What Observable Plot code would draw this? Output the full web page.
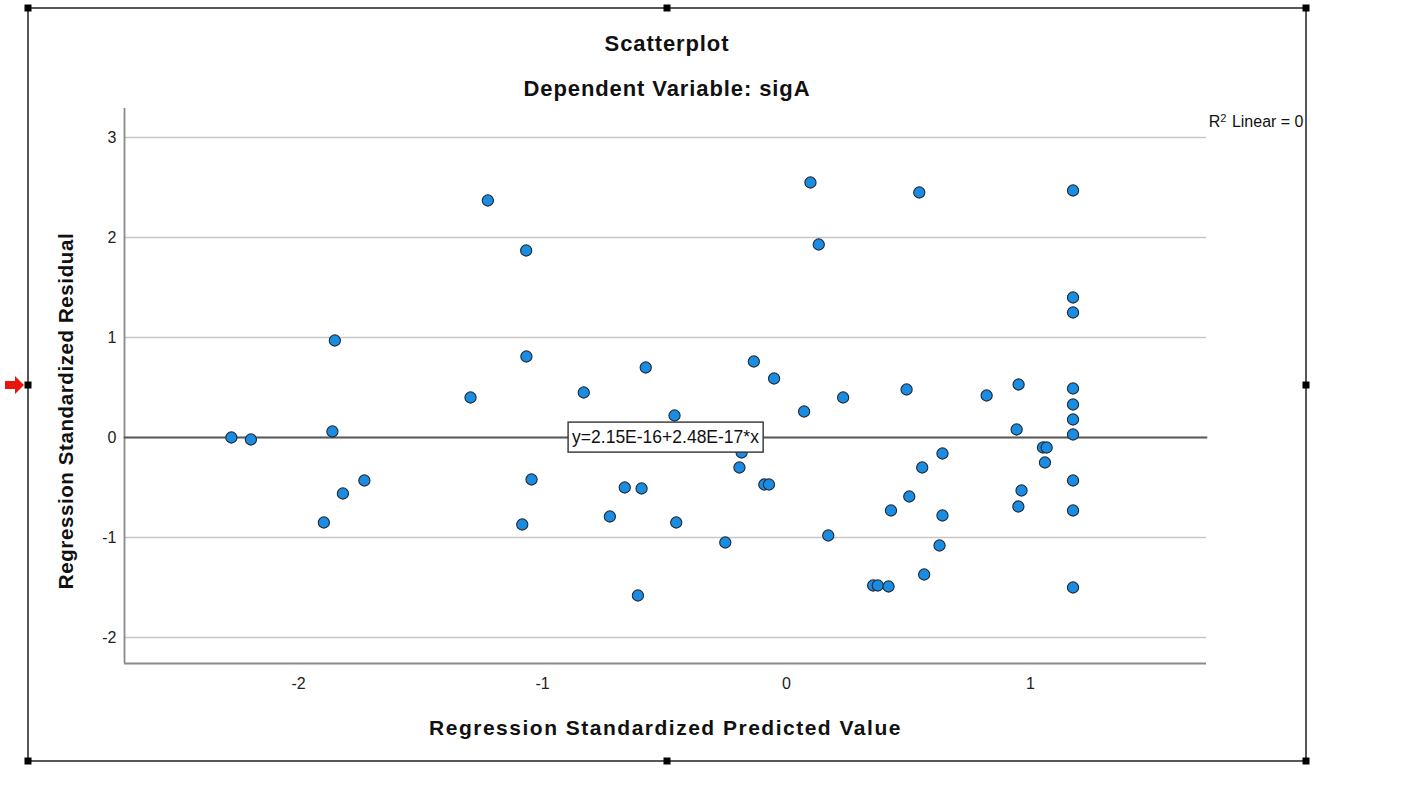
<!DOCTYPE html>
<html>
<head>
<meta charset="utf-8">
<script src="https://cdn.jsdelivr.net/npm/d3@7"></script>
<script src="https://cdn.jsdelivr.net/npm/@observablehq/plot@0.6"></script>
<style>
  html, body { margin: 0; padding: 0; background: #fff; }
  body { font-family: "Liberation Sans", Arial, sans-serif; }
  #wrap { position: relative; width: 1420px; height: 804px; overflow: hidden; }
  #chart { position: absolute; left: 0; top: 0; }
  .title { position: absolute; left: 28px; width: 1278px; text-align: center; font-weight: bold;
           font-size: 22px; line-height: 24px; letter-spacing: 0.9px; color: #111; }
  #deco { position: absolute; left: 0; top: 0; pointer-events: none; }
</style>
</head>
<body>
<div id="wrap">
  <div id="chart"></div>
  <div class="title" style="top:32px">Scatterplot</div>
  <div class="title" style="top:77px">Dependent Variable: sigA</div>
  <svg id="deco" width="1420" height="804"></svg>
</div>
<script>
// ---- data ----
const predicted = [-2.275, -2.195, -1.896, -1.861, -1.851, -1.818, -1.730, -1.295, -1.224, -1.083,
  -1.067, -1.066, -1.045, -0.831, -0.724, -0.663, -0.609, -0.594, -0.577, -0.459,
  -0.452, -0.251, -0.193, -0.184, -0.134, -0.091, -0.072, -0.051, 0.072, 0.098,
  0.132, 0.171, 0.232, 0.355, 0.374, 0.418, 0.428, 0.492, 0.503, 0.544,
  0.556, 0.564, 0.627, 0.639, 0.639, 0.820, 0.943, 0.950, 0.951, 0.963,
  1.051, 1.059, 1.066, 1.174, 1.174, 1.174, 1.174, 1.174, 1.174, 1.174,
  1.174, 1.174, 1.174];
const residual = [0.00, -0.02, -0.85, 0.06, 0.97, -0.56, -0.43, 0.40, 2.37, -0.87,
  1.87, 0.81, -0.42, 0.45, -0.79, -0.50, -1.58, -0.51, 0.70, 0.22,
  -0.85, -1.05, -0.30, -0.15, 0.76, -0.47, -0.47, 0.59, 0.26, 2.55,
  1.93, -0.98, 0.40, -1.48, -1.48, -1.49, -0.73, 0.48, -0.59, 2.45,
  -0.30, -1.37, -1.08, -0.16, -0.78, 0.42, 0.08, -0.69, 0.53, -0.53,
  -0.10, -0.25, -0.10, 2.47, 1.40, 1.25, 0.49, 0.33, 0.18, 0.03,
  -0.43, -0.73, -1.50];
const xTicks = [-2, -1, 0, 1];
const yTicks = [-2, -1, 0, 1, 2, 3];
const xDomain = [-2.713, 1.721];
const yDomain = [-2.26, 3.29];
const fitIntercept = [2.15e-16];
const fitSlope = [2.48e-17];
const eqLabel = ["y=2.15E-16+2.48E-17*x"];
const eqAnchor = [{x: -0.496, y: 0}];
const r2Label = ["R2 Linear = 0"];
const xTitle = ["Regression Standardized Predicted Value"];
const yTitle = ["Regression Standardized Residual"];

const points = predicted.map((p, i) => ({x: p, y: residual[i]}));
const fitLine = xDomain.map(x => ({x, y: fitIntercept[0] + fitSlope[0] * x}));

const FONT = "'Liberation Sans', Arial, sans-serif";

const chart = Plot.plot({
  width: 1420,
  height: 804,
  marginLeft: 124,
  marginRight: 214,
  marginTop: 108,
  marginBottom: 141,
  style: {fontFamily: FONT, fontSize: "16px", color: "#222", background: "transparent"},
  x: {domain: xDomain, label: null},
  y: {domain: yDomain, label: null},
  marks: [
    Plot.ruleY(yTicks, {stroke: "#c6c6c6", strokeWidth: 1.5}),
    Plot.ruleX([xDomain[0]], {y1: yDomain[0], y2: yDomain[1], stroke: "#8a8a8a", strokeWidth: 1.8}),
    Plot.ruleY([yDomain[0]], {stroke: "#8a8a8a", strokeWidth: 1.8}),
    Plot.axisX(xTicks, {tickSize: 0, tickPadding: 14, tickFormat: d => `${d}`, fontSize: 16, fill: "#222", label: null}),
    Plot.axisY(yTicks, {tickSize: 0, tickPadding: 8, tickFormat: d => `${d}`, fontSize: 16, fill: "#222", label: null}),
    Plot.line(fitLine, {x: "x", y: "y", stroke: "#5a5a5a", strokeWidth: 2}),
    Plot.dot(points, {x: "x", y: "y", r: 5.6, fill: "#1a8de3", stroke: "#1e2a36", strokeWidth: 1.1}),
    Plot.text(eqLabel, {x: () => eqAnchor[0].x, y: () => eqAnchor[0].y, text: d => d, fontSize: 17.5,
      fill: "#111", className: "eqlabel"}),
    Plot.text(r2Label, {frameAnchor: "top-right", dx: 97, dy: 7, textAnchor: "end", lineAnchor: "top",
      fontSize: 16, fill: "#111", className: "r2label"}),
    Plot.text(xTitle, {frameAnchor: "bottom", dy: 71, fontSize: 21, fontWeight: "bold", fill: "#111"}),
    Plot.text(yTitle, {frameAnchor: "left", rotate: -90, dx: -58, dy: 25, textAnchor: "middle",
      fontSize: 20.5, fontWeight: "bold", fill: "#111"})
  ]
});
document.getElementById("chart").appendChild(chart);

const ns = "http://www.w3.org/2000/svg";

// letter spacing for axis titles
chart.querySelectorAll("text").forEach(t => {
  if (t.textContent === xTitle[0]) t.setAttribute("letter-spacing", "1.5");
  if (t.textContent === yTitle[0]) t.setAttribute("letter-spacing", "0.6");
});

// superscript 2 in the R² label
const r2G = chart.querySelector(".r2label");
if (r2G) {
  const t = r2G.querySelector("text");
  const parts = r2Label[0].split("2");
  t.textContent = "";
  const a = document.createElementNS(ns, "tspan"); a.textContent = parts[0];
  const s = document.createElementNS(ns, "tspan"); s.textContent = "2";
  s.setAttribute("font-size", "11"); s.setAttribute("dy", "-5");
  const b = document.createElementNS(ns, "tspan"); b.textContent = parts.slice(1).join("2");
  b.setAttribute("dy", "5"); b.setAttribute("dx", "1");
  t.appendChild(a); t.appendChild(s); t.appendChild(b);
}

// box behind the regression equation label
const eqG = chart.querySelector(".eqlabel");
if (eqG) {
  const t = eqG.querySelector("text");
  const bb = t.getBBox();
  const rect = document.createElementNS(ns, "rect");
  rect.setAttribute("x", bb.x - 4);
  rect.setAttribute("y", bb.y - 5);
  rect.setAttribute("width", bb.width + 8);
  rect.setAttribute("height", bb.height + 10);
  rect.setAttribute("fill", "#fff");
  rect.setAttribute("stroke", "#333");
  rect.setAttribute("stroke-width", "1.4");
  const tr = t.getAttribute("transform");
  if (tr) rect.setAttribute("transform", tr);
  t.parentNode.insertBefore(rect, t);
}

// outer frame with selection handles and marker arrow (decoration)
const deco = d3.select("#deco");
const L = 28, R = 1306, T = 8, B = 761, MX = 667, MY = 385;
deco.append("rect").attr("x", L).attr("y", T).attr("width", R - L).attr("height", B - T)
  .attr("fill", "none").attr("stroke", "#111").attr("stroke-width", 1.4);
[[L, T], [MX, T], [R, T], [L, MY], [R, MY], [L, B], [MX, B], [R, B]].forEach(([x, y]) => {
  deco.append("rect").attr("x", x - 3.5).attr("y", y - 3.5).attr("width", 7).attr("height", 7).attr("fill", "#000");
});
deco.append("path")
  .attr("d", "M5,381 L15,381 L15,376 L24,385 L15,394 L15,389 L5,389 Z")
  .attr("fill", "#e8160c");
</script>
</body>
</html>
